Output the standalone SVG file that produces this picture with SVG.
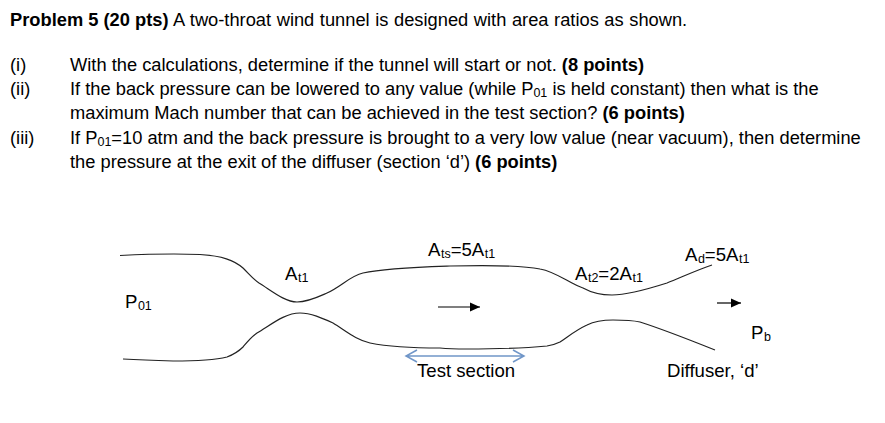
<svg xmlns="http://www.w3.org/2000/svg" width="885" height="423" viewBox="0 0 885 423">
<defs>
<marker id="head" markerWidth="11" markerHeight="10" refX="10" refY="5" orient="auto" markerUnits="userSpaceOnUse"><path d="M0 0.500L10 5L0 9.500Z" fill="#000"/></marker>
</defs>
<style>
text{font-family:"Liberation Sans",Arial,sans-serif;font-size:18.3px;fill:#000}
.b{font-weight:bold}
.s{font-size:12.5px}
.l{font-size:18.6px}
.wall{fill:none;stroke:#222;stroke-width:1.2}
.flow{fill:none;stroke:#000;stroke-width:1.2;marker-end:url(#head)}
.ts{fill:none;stroke:#7096c8;stroke-width:1.5}
</style>
<rect width="885" height="423" fill="#fff"/>
<g id="problem-text">
<text x="10" y="25.500"><tspan class="b">Problem 5 (20 pts)</tspan><tspan word-spacing="0.5"> A two-throat wind tunnel is designed with area ratios as shown.</tspan></text>
<text x="10" y="70.500">(i)</text>
<text x="70" y="70.500">With the calculations, determine if the tunnel will start or not. <tspan class="b">(8 points)</tspan></text>
<text x="10" y="94.500">(ii)</text>
<text x="70" y="94.500">If the back pressure can be lowered to any value (while P<tspan class="s" dy="2">01</tspan><tspan dy="-2"> is held constant) then what is the</tspan></text>
<text x="70" y="118.500">maximum Mach number that can be achieved in the test section? <tspan class="b">(6 points)</tspan></text>
<text x="10" y="143.500">(iii)</text>
<text x="70" y="143.500">If P<tspan class="s" dy="2">01</tspan><tspan dy="-2">=10 atm and the back pressure is brought to a very low value (near vacuum), then determine</tspan></text>
<text x="70" y="167.500">the pressure at the exit of the diffuser (section ‘d’) <tspan class="b">(6 points)</tspan></text>
</g>
<g id="connectors">
<path class="wall" d="M120 255.500C150 254 175 253.500 200 254.500C222 256 234 260 243 268C250 275 253 279 259 283C272 291 285 302 297 302C308 302 318 297 327 293C342 286 350 276 363 273C385 268 420 267 450 266C490 265 525 266 540 269C557 272 570 284 583 288C592 293 600 295 612 295C622 295 645 290 667 283C682 277 697 270 712 265"/>
<path class="wall" d="M123 359C140 360 155 360.500 173 361C195 361 215 360 227 357C235 354 238 352 243 347C248 341 251 337 257 333C272 324 285 313 300 313C311 313 322 318 333 323C346 331 356 340 370 343C390 347 415 348 440 348C450 349 460 349 467 349C495 349 525 348 547 346C553 345 556 344 560 342C569 336 576 330 587 325C595 321 603 320 613 320C622 320 631 320 640 322C665 330 690 340 715 350"/>
<path class="flow" d="M438 307H480"/>
<path class="flow" d="M717 303H741"/>
<path class="ts" d="M406 356H524M417 350L406 356L417 362M513 350L524 356L513 362"/>
</g>
<g id="label-at1"><text class="l" x="285" y="280">A<tspan class="s" dy="2" dx="0.5">t1</tspan></text></g>
<g id="label-p01"><text class="l" x="125" y="308">P<tspan class="s" dy="2" dx="0.5">01</tspan></text></g>
<g id="label-ats"><text class="l" x="428" y="256">A<tspan class="s" dy="2" dx="0.5">ts</tspan><tspan dy="-2">=5A</tspan><tspan class="s" dy="2" dx="0.5">t1</tspan></text></g>
<g id="label-at2"><text class="l" x="575" y="280">A<tspan class="s" dy="2" dx="0.5">t2</tspan><tspan dy="-2">=2A</tspan><tspan class="s" dy="2" dx="0.5">t1</tspan></text></g>
<g id="label-ad"><text class="l" x="685" y="260.500">A<tspan class="s" dy="2" dx="0.5">d</tspan><tspan dy="-2">=5A</tspan><tspan class="s" dy="2" dx="0.5">t1</tspan></text></g>
<g id="label-pb"><text class="l" x="751" y="339">P<tspan class="s" dy="2" dx="0.5">b</tspan></text></g>
<g id="label-test"><text class="l" x="417" y="377">Test section</text></g>
<g id="label-diffuser"><text class="l" x="667" y="377">Diffuser, ‘d’</text></g>
</svg>
